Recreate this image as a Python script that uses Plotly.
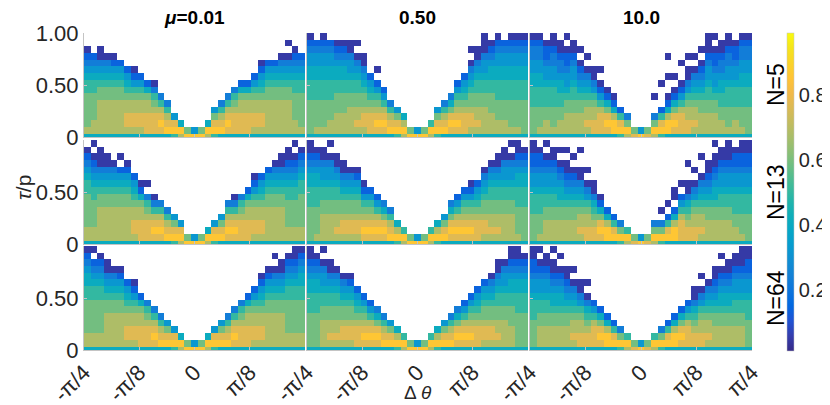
import numpy as np
import plotly.graph_objects as go

# ------------------------------------------------------------------ data
COLUMN_TITLES = ["<b><i>μ</i>=0.01</b>", "<b>0.50</b>", "<b>10.0</b>"]
ROW_LABELS = ["N=5", "N=13", "N=64"]
X_TICK_VALS = [-np.pi / 4, -np.pi / 8, 0.0, np.pi / 8, np.pi / 4]
X_TICK_TEXT = ["-π/4", "-π/8", "0", "π/8", "π/4"]
Y_TICK_VALS = [0.0, 0.5, 1.0]
Y_TICK_TEXT = ["0", "0.50", "1.00"]
CBAR_TICKS = [0.2, 0.4, 0.6, 0.8]
X_EDGES = list(np.linspace(-np.pi / 4, np.pi / 4, 34))   # 33 Δθ bins
Y_EDGES = [0.0, 0.033, 0.0975, 0.162, 0.2265, 0.291, 0.3555, 0.42, 0.4845,
           0.549, 0.6135, 0.678, 0.7425, 0.807, 0.8715, 0.936, 1.0]  # τ/p bins
# colour level of each digit 0..9 in the strings below
LEVELS = [0.05, 0.14, 0.23, 0.32, 0.41, 0.50, 0.59, 0.68, 0.77, 0.86]

# each string = one Δθ column (left to right), bottom bin first;
# digit = level index, '.' = empty bin
P_N5_MU001 = [
    "47666665543210", "4776666554321", "47777766543200", "4777776654320",
    "4777776654310", "477777665431", "47887765431", "47887765310",
    "4788776531", "488877641", "488876520", "4898752", "498752", "5983",
    "794", "96", "93", "96", "794", "59863", "498752", "4898752",
    "48887652", "488877641", "488877641", "4788776531", "478877654310",
    "477777665431", "477777665431", "4777776654320", "4777776654320.0",
    "47766665543210", "4766666554321"]
P_N5_MU050 = [
    "4666665554433210", "476666555443321.", "4766665554433210", "477666555443321.",
    "477766655443210.", "477766655443210", "477776655433200", "4787766554320.0",
    "4788766543200", "4888765431", "489876531.0", "48987531", "498752", "59863",
    "7974", "96", "93", "96", "795", "59863", "498752", "4898642",
    "489876531", "4888765431", "478876654320.0", "47877665543200",
    "4777766554332000", "477766655443210.", "4776665554433210", "477666555443321.",
    "4766665554433210", "4766665554433210", "4666665554433210"]
P_N5_MU10 = [
    "4666655544332210", "4766655544332210", "477665554332110.", "4766655543322100",
    "477665544322100.", "47776654332110.0", "477766554332100", "477766543210.0",
    "47877654320.0", "48877653200", "488875310.0", "48986410", "4997410",
    "59851", "7962", "86", "93", "86", "7962..0", "59851...0", "4997410..0..0",
    "48986410.0", "488875310..0", "48877653200.0", "47877654320.0",
    "477766543210.0", "4777665543321000", "47776654332110.0", "477665544322100",
    "4766655543322100", "477665554332110.", "4766655544332210", "4666655544332210"]
P_N13_MU001 = [
    "477666665543210", "47766665543210.0", "477777665432000", "47777766543200",
    "4777776654320", "477777665431.0", "4777776654310", "47887765431",
    "4888776410", "48887652.0", "48987520", "4898752", "498752", "59863",
    "7983", "96", "93", "96", "794", "5983", "49863", "4898752", "48987520",
    "48887652", "488877641", "47887765310", "47887765431", "477777665431",
    "4777776654320", "47777766543200", "477666655432100", "47766665543210.0",
    "477666665543210"]
P_N13_MU050 = [
    "4666665554432100", "476666555443210", "477776655433200", "47777665543320.0",
    "47877665543200", "4788766543200", "478876654320", "478876654310",
    "4898765310", "489876531", "48987531", "4898642", "498752", "5974", "795",
    "96", "93", "96", "795", "5974", "49863", "4898642", "48987531",
    "489876531", "4898765310", "4888765431", "478876654320", "4787766554320",
    "47877665543200", "477776655433200", "47777665543320.0", "4766665554432100",
    "466666555443210"]
P_N13_MU10 = [
    "4666655543321100", "476665554332110.", "47776655433210.0", "477766554332100",
    "4777665443210.0", "4777665432100.0", "477766543210.0", "478776543200..0",
    "4887765320.0", "4887654200", "48986410", "499741", "49851", "5962", "795",
    "86", "93", "86", "7962", "5962.0", "49851.0", "499741.00", "48887531.0",
    "4887654200..0", "4887765320.0", "47877654320..0", "4777665432100",
    "47776654432100.0", "477766554332100", "4777665543321000", "477665554332110.",
    "4766655543321100", "4666655543321100"]
P_N64_MU001 = [
    "4776666655443210", "47766666554321.0", "477666665543210", "47777766543200",
    "4777776654320", "4777776654310", "47887765431", "47887765310",
    "488877641", "48887652", "4898752", "498752", "49863", "5983", "794",
    "96", "93", "96", "794", "5983", "49863", "498752", "4898752", "48887652",
    "488877641", "4788776531", "478877654310", "4777776654310",
    "4777776654320.0", "47777766543200", "477666665543210", "4776666655432100",
    "4776666655443210"]
P_N64_MU050 = [
    "4666665554432100", "466666555443210.", "47777665543320.0", "47877665543200",
    "4787766554320", "478876654320", "478876654310", "4888765431",
    "489876531", "48987531", "4898642", "498752", "49863", "5974", "795",
    "96", "93", "96", "795", "5974", "49863", "498752", "4898642", "48987531",
    "489876531", "4888765431", "47887665431", "478876654320", "47877665543200",
    "47777665543320", "4777666554432100", "4666665554432100", "466666555443210."]
P_N64_MU10 = [
    "4666655543321100", "47776655433210.0", "477766554332100", "47776654432100.0",
    "4777665443210.0", "4777665432100", "47877654320.0", "48877653200",
    "488765420.0", "48887531", "4898641", "499741", "49851", "5962", "795",
    "86", "93", "86", "795", "5962", "49851", "499741", "4898641", "48887531",
    "4887654200", "4887765320.0", "47877654320", "4777665432100",
    "4777665443210.0", "47776654432100", "477766554332100", "4777665543321000",
    "4666655543321100"]

PANELS = [[P_N5_MU001, P_N5_MU050, P_N5_MU10],
          [P_N13_MU001, P_N13_MU050, P_N13_MU10],
          [P_N64_MU001, P_N64_MU050, P_N64_MU10]]

# ------------------------------------------------------------------ style
PARULA = [(0, "rgb(53,42,135)"), (3, "rgb(53,61,173)"), (6, "rgb(32,83,212)"),
          (9, "rgb(2,104,225)"), (12, "rgb(13,117,220)"), (15, "rgb(20,129,214)"),
          (18, "rgb(16,142,210)"), (21, "rgb(7,156,207)"), (24, "rgb(6,167,198)"),
          (27, "rgb(15,174,185)"), (30, "rgb(37,181,169)"), (33, "rgb(66,187,152)"),
          (36, "rgb(101,190,134)"), (39, "rgb(135,191,119)"), (42, "rgb(165,190,107)"),
          (45, "rgb(192,188,96)"), (48, "rgb(217,186,86)"), (51, "rgb(241,185,74)"),
          (54, "rgb(255,195,55)"), (57, "rgb(250,211,42)"), (60, "rgb(245,228,29)"),
          (63, "rgb(249,251,14)")]
COLORSCALE = [[i / 63, c] for i, c in PARULA]

W, H = 830, 405
COL_PX = [(76, 297), (299, 520), (522, 744)]
ROW_PX = [(25, 129), (132, 236), (238, 342)]
FONT = "Liberation Sans, Arial, Helvetica, sans-serif"
TXT = "#262626"
AXC = "#c4c4c4"


def decode(cols):
    nrow = len(Y_EDGES) - 1
    grid = []
    for s in cols:
        s = s.ljust(nrow, ".")[:nrow]
        grid.append([None if ch == "." else LEVELS[int(ch)] for ch in s])
    return [list(r) for r in zip(*grid)]  # rows (bottom first) x columns


fig = go.Figure()
layout = {}
for r in range(3):
    for c in range(3):
        k = r * 3 + c + 1
        xs = "" if k == 1 else str(k)
        z = decode(PANELS[r][c])
        trace = go.Heatmap(
            z=z, x=X_EDGES, y=Y_EDGES, zmin=0.012, zmax=0.99,
            colorscale=COLORSCALE, showscale=(k == 1), hoverinfo="skip",
            xaxis="x" + xs, yaxis="y" + xs,
        )
        if k == 1:
            trace.colorbar = dict(
                x=779 / W, xanchor="left", thickness=7, thicknessmode="pixels",
                len=(343 - 25) / H, lenmode="fraction", y=1 - 184 / H, yanchor="middle",
                xpad=0, ypad=0,
                tickvals=CBAR_TICKS, ticktext=[f"{v:.1f}" for v in CBAR_TICKS],
                ticks="", outlinecolor=AXC, outlinewidth=0.5,
                tickfont=dict(family=FONT, size=20, color=TXT),
            )
        fig.add_trace(trace)
        x0, x1 = COL_PX[c]
        y0, y1 = ROW_PX[r]
        xt = X_TICK_VALS if c == 2 else X_TICK_VALS[:4]
        xtt = X_TICK_TEXT if c == 2 else X_TICK_TEXT[:4]
        yt = Y_TICK_VALS if r == 0 else Y_TICK_VALS[:2]
        ytt = Y_TICK_TEXT if r == 0 else Y_TICK_TEXT[:2]
        layout["xaxis" + xs] = dict(
            domain=[x0 / W, x1 / W], anchor="y" + xs, range=[-np.pi / 4, np.pi / 4],
            automargin=False,
            showgrid=False, zeroline=False, showline=True, linecolor=AXC, linewidth=1,
            ticks="inside", ticklen=3, tickcolor=AXC, tickvals=xt, ticktext=xtt,
            showticklabels=(r == 2), tickangle=-45,
            tickfont=dict(family=FONT, size=22, color=TXT),
        )
        layout["yaxis" + xs] = dict(
            domain=[1 - y1 / H, 1 - y0 / H], anchor="x" + xs, range=[0, 1],
            automargin=False,
            showgrid=False, zeroline=False, showline=True, linecolor=AXC, linewidth=1,
            ticks="inside", ticklen=3, tickcolor=AXC, tickvals=yt, ticktext=ytt,
            showticklabels=(c == 0),
            tickfont=dict(family=FONT, size=22, color=TXT),
        )

ann = []
for c, t in enumerate(COLUMN_TITLES):
    cx = (COL_PX[c][0] + COL_PX[c][1]) / 2
    ann.append(dict(x=cx / W, y=1 - 9 / H, xref="paper", yref="paper", text=t,
                    showarrow=False, xanchor="center", yanchor="middle",
                    font=dict(family=FONT, size=19, color="#000000")))
for r, t in enumerate(ROW_LABELS):
    cy = (ROW_PX[r][0] + ROW_PX[r][1]) / 2
    ann.append(dict(x=768 / W, y=1 - cy / H, xref="paper", yref="paper", text=t,
                    showarrow=False, textangle=-90, xanchor="center", yanchor="middle",
                    font=dict(family=FONT, size=23, color="#000000")))
ann.append(dict(x=15 / W, y=1 - 180 / H, xref="paper", yref="paper", text="<i>τ</i>/p",
                showarrow=False, textangle=-90, xanchor="center", yanchor="middle",
                font=dict(family=FONT, size=21, color=TXT)))
ann.append(dict(x=410 / W, y=1 - 384 / H, xref="paper", yref="paper", text="Δ <i>θ</i>",
                showarrow=False, xanchor="center", yanchor="middle",
                font=dict(family=FONT, size=19, color=TXT)))

fig.update_layout(
    width=W, height=H, autosize=False,
    margin=dict(l=0, r=0, t=0, b=0, pad=0),
    paper_bgcolor="white", plot_bgcolor="white",
    showlegend=False, annotations=ann, **layout,
)

fig.write_html("out.html")
